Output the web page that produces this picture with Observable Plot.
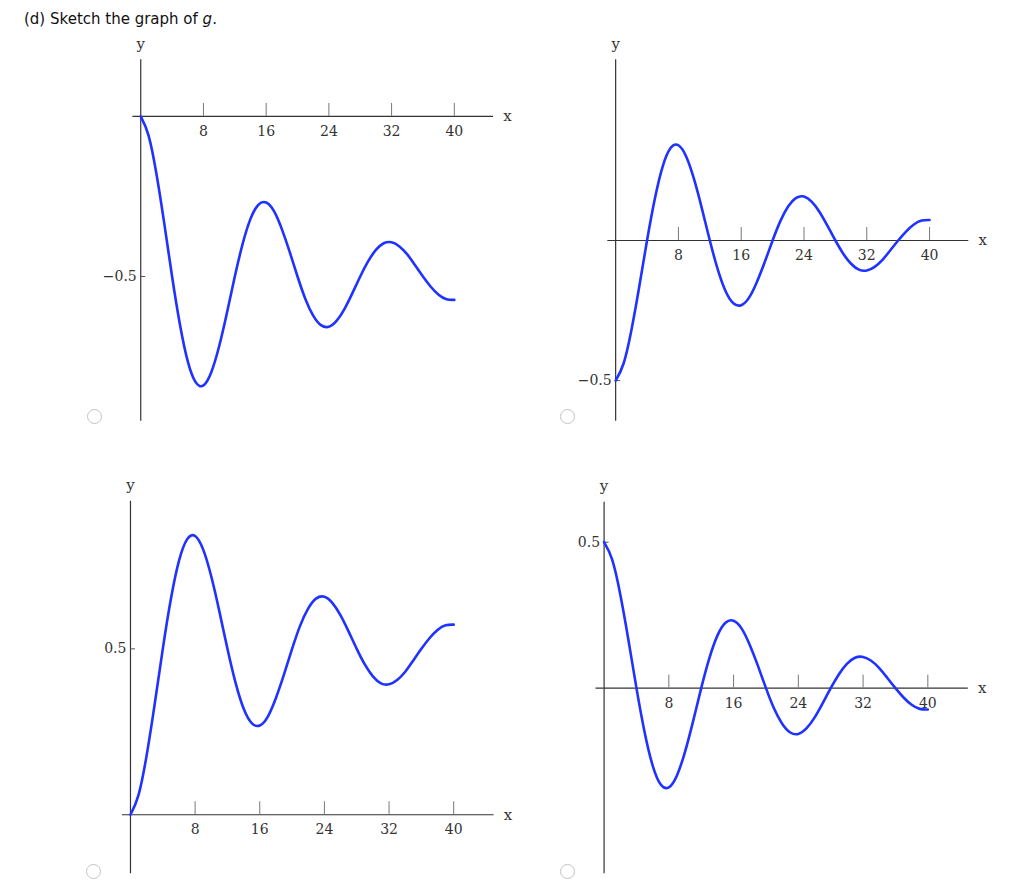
<!DOCTYPE html>
<html>
<head>
<meta charset="utf-8">
<script src="https://cdn.jsdelivr.net/npm/d3@7"></script>
<script src="https://cdn.jsdelivr.net/npm/@observablehq/plot@0.6"></script>
<style>
  html, body { margin: 0; padding: 0; background: #fff; }
  body { width: 1024px; height: 894px; position: relative; overflow: hidden; }
  #title { position: absolute; left: 24px; top: 12px; font: 15px "DejaVu Sans", Verdana, sans-serif; color: #111; line-height: 15px; white-space: nowrap; }
  .panel { position: absolute; }
  .panel svg { overflow: visible; }
  .radio { position: absolute; width: 15px; height: 15px; border: 1px solid #c4c4c4; border-radius: 50%; box-sizing: border-box; background: #fff; }
</style>
</head>
<body>
<div id="title">(d) Sketch the graph of <i>g</i>.</div>
<div class="radio" style="left:87px;top:409px"></div>
<div class="radio" style="left:560px;top:409px"></div>
<div class="radio" style="left:86px;top:864px"></div>
<div class="radio" style="left:560px;top:864px"></div>
<div id="p1" class="panel"></div>
<div id="p2" class="panel"></div>
<div id="p3" class="panel"></div>
<div id="p4" class="panel"></div>
<script>
// ---- data ----
const xValues = [0,1,2,3,4,5,6,7,8,9,10,11,12,13,14,15,16,17,18,19,20,21,22,23,24,25,26,27,28,29,30,31,32,33,34,35,36,37,38,39,40];
const xTicks = [8, 16, 24, 32, 40];
const xTickLabels = ["8", "16", "24", "32", "40"];

// top-left graph
const graphA = [0,-0.060,-0.179,-0.334,-0.5,-0.650,-0.765,-0.830,-0.840,-0.799,-0.718,-0.613,-0.5,-0.398,-0.320,-0.276,-0.269,-0.296,-0.352,-0.423,-0.5,-0.570,-0.622,-0.652,-0.657,-0.638,-0.601,-0.552,-0.5,-0.453,-0.417,-0.396,-0.393,-0.406,-0.431,-0.465,-0.5,-0.532,-0.557,-0.571,-0.573];
// top-right graph
const graphB = [-0.5,-0.440,-0.321,-0.166,0,0.150,0.265,0.330,0.340,0.299,0.218,0.113,0,-0.102,-0.180,-0.224,-0.231,-0.204,-0.148,-0.077,0,0.070,0.122,0.152,0.157,0.138,0.101,0.052,0,-0.047,-0.083,-0.104,-0.107,-0.094,-0.069,-0.035,0,0.032,0.057,0.071,0.073];
// bottom-left graph
const graphC = [0,0.060,0.179,0.334,0.5,0.650,0.765,0.830,0.840,0.799,0.718,0.613,0.5,0.398,0.320,0.276,0.269,0.296,0.352,0.423,0.5,0.570,0.622,0.652,0.657,0.638,0.601,0.552,0.5,0.453,0.417,0.396,0.393,0.406,0.431,0.465,0.5,0.532,0.557,0.571,0.573];
// bottom-right graph
const graphD = [0.5,0.440,0.321,0.166,0,-0.150,-0.265,-0.330,-0.340,-0.299,-0.218,-0.113,0,0.102,0.180,0.224,0.231,0.204,0.148,0.077,0,-0.070,-0.122,-0.152,-0.157,-0.138,-0.101,-0.052,0,0.047,0.083,0.104,0.107,0.094,0.069,0.035,0,-0.032,-0.057,-0.071,-0.073];

const yTickValues = [-0.5, -0.5, 0.5, 0.5];
const yTickLabels = ["\u22120.5", "\u22120.5", "0.5", "0.5"];
const xAxisDomain = [-1, 45];
const yAxisDomains = [[-0.952, 0.177], [-0.645, 0.645], [-0.178, 0.945], [-0.636, 0.637]];
const xAxisName = "x";
const yAxisName = "y";

// ---- layout ----
const layouts = [
  {id: "p1", left: 0,   top: 30,  width: 520, height: 410, ml: 132.4, mr: 27,   mt: 29.3, mb: 19.3},
  {id: "p2", left: 520, top: 30,  width: 504, height: 410, ml: 87.3,  mr: 55.7, mt: 29.3, mb: 19.3},
  {id: "p3", left: 0,   top: 460, width: 520, height: 434, ml: 121.9, mr: 26.4, mt: 40.7, mb: 20.7},
  {id: "p4", left: 520, top: 460, width: 504, height: 434, ml: 75.5,  mr: 56.2, mt: 41.7, mb: 20.7}
];
const graphs = [graphA, graphB, graphC, graphD];

const serif = "'DejaVu Serif', 'Liberation Serif', serif";
const curveColor = "#1f32ff";

layouts.forEach((L, k) => {
  const rows = xValues.map((x, i) => ({x, y: graphs[k][i]}));
  const chart = Plot.plot({
    width: L.width,
    height: L.height,
    marginLeft: L.ml, marginRight: L.mr, marginTop: L.mt, marginBottom: L.mb,
    x: {domain: xAxisDomain, axis: null},
    y: {domain: yAxisDomains[k], axis: null},
    style: {background: "transparent", overflow: "visible"},
    marks: [
      Plot.ruleY([0], {stroke: "#333", strokeWidth: 1.2}),
      Plot.ruleX([0], {stroke: "#333", strokeWidth: 1.2}),
      Plot.ruleX(xTicks, {x: d => d, y1: d => 0, y2: d => 0, insetTop: -13, stroke: "#777", strokeWidth: 1}),
      Plot.text(xTicks, {x: d => d, y: d => 0, text: (d, i) => xTickLabels[i], dy: 15, fontFamily: serif, fontSize: 14, fill: "#333"}),
      Plot.ruleY([yTickValues[k]], {y: d => d, x1: d => 0, x2: d => 0, insetRight: -5, stroke: "#555", strokeWidth: 1}),
      Plot.text([yTickValues[k]], {x: d => 0, y: d => d, text: () => yTickLabels[k], textAnchor: "end", dx: -4, fontFamily: serif, fontSize: 14, fill: "#333"}),
      Plot.text([xAxisName], {y: d => 0, frameAnchor: "right", text: d => d, textAnchor: "middle", dx: 14, fontFamily: serif, fontSize: 15, fill: "#333"}),
      Plot.text([yAxisName], {x: d => 0, frameAnchor: "top", text: d => d, textAnchor: "middle", dy: k < 2 ? -21 : -22, fontFamily: serif, fontSize: 15, fill: "#333"}),
      Plot.line(rows, {x: "x", y: "y", stroke: curveColor, strokeWidth: 2.6, curve: "natural"})
    ]
  });
  const el = document.getElementById(L.id);
  el.style.left = L.left + "px";
  el.style.top = L.top + "px";
  el.appendChild(chart);
});
</script>
</body>
</html>
